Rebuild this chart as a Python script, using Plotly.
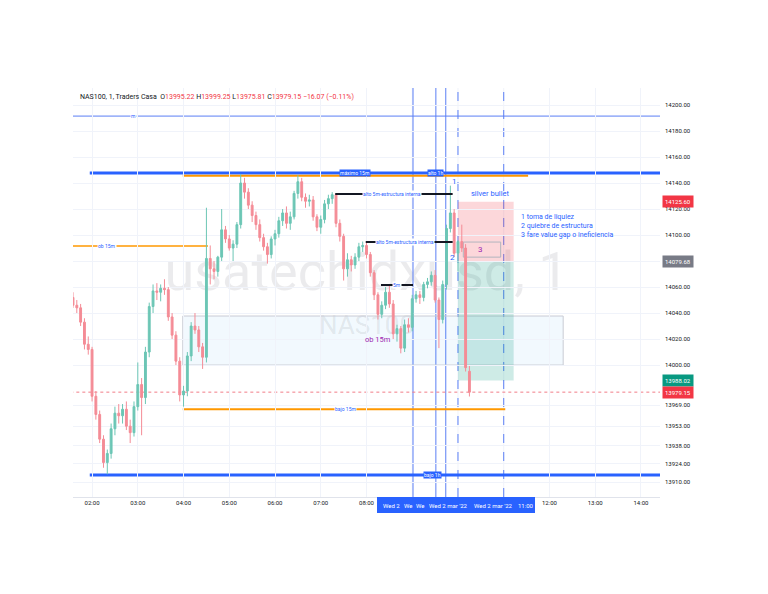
import pandas as pd
import plotly.graph_objects as go

# ---------------- data (5-minute candles) ----------------
open_ = [14052, 14046, 14044, 14033, 14016, 14012, 13976, 13962, 13943, 13925,
         13932, 13951, 13963, 13961, 13966, 13953, 13948, 13968, 13985, 13975,
         14010, 14045, 14057, 14056, 14059, 14058, 14037, 14023, 14003, 13977,
         13980, 14007, 14030, 14027, 14014, 14006, 14082, 14074, 14072, 14083,
         14104, 14097, 14090, 14093, 14108, 14140, 14133, 14123, 14115, 14108,
         14098, 14091, 14085, 14097, 14101, 14111, 14117, 14109, 14114, 14132,
         14141, 14129, 14126, 14127, 14114, 14106, 14112, 14124, 14128, 14131,
         14109, 14099, 14074, 14081, 14077, 14083, 14091, 14092, 14085, 14071,
         14054, 14039, 14046, 14056, 14047, 14024, 14028, 14013, 14031, 14029,
         14051, 14054, 14052, 14062, 14064, 14069, 14050, 14035, 14062, 14105,
         14117, 14086, 14095, 14090, 13995.22]
high_ = [14056, 14050, 14047, 14036, 14022, 14014, 13980, 13965, 13946, 13935,
         13955, 13968, 13970, 13970, 13972, 13958, 13972, 14002, 13990, 14014,
         14048, 14062, 14063, 14062, 14066, 14060, 14040, 14026, 14006, 13984,
         14010, 14033, 14040, 14030, 14017, 14121, 14092, 14080, 14084, 14120,
         14107, 14100, 14096, 14110, 14147, 14144, 14136, 14126, 14118, 14112,
         14101, 14094, 14099, 14104, 14114, 14120, 14122, 14118, 14134, 14146,
         14144, 14132, 14131, 14130, 14116, 14115, 14127, 14131, 14133, 14132,
         14112, 14101, 14086, 14084, 14086, 14094, 14095, 14094, 14087, 14073,
         14056, 14049, 14060, 14062, 14050, 14031, 14030, 14035, 14036, 14054,
         14057, 14057, 14064, 14067, 14072, 14073, 14052, 14065, 14108, 14138,
         14120, 14096, 14108, 14093, 13999.25]
low_ = [14044, 14040, 14030, 14012, 14008, 13972, 13958, 13940, 13921, 13916,
        13928, 13946, 13955, 13955, 13950, 13940, 13945, 13965, 13946, 13970,
        14006, 14040, 14050, 14049, 14054, 14034, 14020, 14000, 13972, 13968,
        13976, 14003, 14024, 14010, 13997, 14002, 14062, 14066, 14068, 14080,
        14094, 14088, 14080, 14090, 14105, 14128, 14120, 14110, 14104, 14095,
        14088, 14078, 14082, 14092, 14098, 14107, 14105, 14104, 14112, 14128,
        14126, 14121, 14122, 14111, 14103, 14101, 14109, 14120, 14124, 14106,
        14095, 14065, 14068, 14072, 14074, 14080, 14087, 14082, 14068, 14050,
        14035, 14036, 14043, 14044, 14020, 14018, 14009, 14010, 14025, 14026,
        14048, 14047, 14049, 14059, 14061, 14048, 14013, 14032, 14058, 14102,
        14083, 14072, 14087, 13995, 13975.81]
close_ = [14046, 14044, 14033, 14016, 14012, 13976, 13962, 13943, 13925, 13932,
          13951, 13963, 13961, 13966, 13953, 13948, 13968, 13985, 13975, 14010,
          14045, 14057, 14056, 14059, 14058, 14037, 14023, 14003, 13977, 13980,
          14007, 14030, 14027, 14014, 14006, 14082, 14074, 14072, 14083, 14104,
          14097, 14090, 14093, 14108, 14140, 14133, 14123, 14115, 14108, 14098,
          14091, 14085, 14097, 14101, 14111, 14117, 14109, 14114, 14132, 14141,
          14129, 14126, 14127, 14114, 14106, 14112, 14124, 14128, 14131, 14109,
          14099, 14074, 14081, 14077, 14083, 14091, 14092, 14085, 14071, 14054,
          14039, 14046, 14056, 14047, 14024, 14028, 14013, 14031, 14029, 14051,
          14054, 14052, 14062, 14064, 14069, 14050, 14035, 14062, 14105, 14117,
          14086, 14095, 14090, 13998, 13979.15]
times = pd.date_range("2022-03-02 01:35", periods=len(close_), freq="5min")

# price levels of the drawings
lvl_m = 14191.5
lvl_max15 = 14147.7
lvl_max15_or = 14145.6
lvl_alto5a = 14131.5
lvl_alto5b = 14094.6
lvl_5m = 14061.5
lvl_ob15 = 14091.5
lvl_bajo15 = 13966.0
lvl_bajo1h = 13915.4
box_top, box_bot = 14037.7, 14000.0
stop_p, entry_p, target_p, last_p = 14125.60, 14079.68, 13988.02, 13979.15
fvg_top, fvg_bot = 14094.6, 14083.0

ytick_vals = [14200, 14180, 14160, 14140, 14120, 14100, 14080, 14060, 14040, 14020,
              14000, 13969, 13953, 13938, 13924, 13910]
xtick_hours = ["02:00", "03:00", "04:00", "05:00", "06:00", "07:00", "08:00",
               "12:00", "13:00", "14:00"]

D = "2022-03-02 "
BLUE = "#2962ff"
ORANGE = "#ff9800"

# page body has an 8px margin: figure origin is at page (8, 8)
PL, PT, PR, PB = 73 - 8, 88 - 8, 660 - 8, 497 - 8   # plot box in figure pixels
W, H = 760, 586
PW, PH = PR - PL, PB - PT

fig = go.Figure()
fig.add_trace(go.Candlestick(
    x=times, open=open_, high=high_, low=low_, close=close_,
    increasing=dict(line=dict(color="#6cc6b5", width=1), fillcolor="#6cc6b5"),
    decreasing=dict(line=dict(color="#f48c96", width=1), fillcolor="#f48c96"),
    whiskerwidth=0, showlegend=False, hoverinfo="skip"))

shapes = []
def hline(y, x0, x1, color, width, dash="solid", layer="below"):
    shapes.append(dict(type="line", xref="x", yref="y", x0=x0, x1=x1, y0=y, y1=y,
                       line=dict(color=color, width=width, dash=dash), layer=layer))
def vline(x, color, width, dash="solid"):
    shapes.append(dict(type="line", xref="x", yref="paper", x0=x, x1=x, y0=0, y1=1,
                       line=dict(color=color, width=width, dash=dash), layer="below"))
def rect(x0, x1, y0, y1, fill, line_color, lw=1):
    shapes.append(dict(type="rect", xref="x", yref="y", x0=x0, x1=x1, y0=y0, y1=y1,
                       fillcolor=fill, line=dict(color=line_color, width=lw), layer="below"))

# extra hour grid lines (hours whose labels are hidden by the highlighted band)
for h in ["09:00", "10:00", "11:00"]:
    shapes.append(dict(type="line", xref="x", yref="paper", x0=D + h, x1=D + h, y0=0, y1=1,
                       line=dict(color="#f0f3fa", width=1), layer="below"))

# watermark
shapes.append(dict(type="rect", xref="paper", yref="paper", x0=0, x1=1, y0=0.46, y1=0.66,
                   line=dict(width=0), fillcolor="rgba(0,0,0,0)", layer="below",
                   label=dict(text="usatechidxusd, 1", textposition="middle center",
                              font=dict(size=54, color="rgba(120,123,134,0.15)",
                                        family="Roboto"))))
shapes.append(dict(type="rect", xref="paper", yref="paper", x0=0, x1=1, y0=0.37, y1=0.48,
                   line=dict(width=0), fillcolor="rgba(0,0,0,0)", layer="below",
                   label=dict(text="NAS100", textposition="middle center",
                              font=dict(size=26, color="rgba(120,123,134,0.15)",
                                        family="Roboto"))))

# boxes
rect(D + "03:59", D + "12:18", box_bot, box_top, "rgba(33,150,243,0.06)", "#c9ccd4")
rect(D + "10:00", D + "11:13", entry_p, stop_p, "rgba(242,54,69,0.2)", "rgba(0,0,0,0)", 0)
rect(D + "10:00", D + "11:13", target_p, entry_p, "rgba(8,153,129,0.2)", "rgba(0,0,0,0)", 0)
rect(D + "10:07", D + "10:56", fvg_bot, fvg_top, "rgba(255,255,255,0)", "#b2b5be")

# vertical lines
for t in ["09:01", "09:31", "09:44"]:
    vline(D + t, "#5b7ff5", 1)
for t in ["10:00", "11:00"]:
    vline(D + t, "#5b7ff5", 1, "dash")

# horizontal drawings
X_L, X_R = D + "01:00", D + "15:00"
hline(lvl_m, X_L, X_R, "#5b7ff5", 1)
hline(lvl_max15, D + "01:57", X_R, BLUE, 3)
hline(lvl_max15_or, D + "03:59", D + "11:32", ORANGE, 2)
hline(lvl_bajo1h, D + "01:57", X_R, BLUE, 3)
hline(lvl_ob15, D + "01:35", D + "04:32", ORANGE, 1.5)
hline(lvl_bajo15, D + "03:59", D + "11:02", ORANGE, 2)
hline(lvl_alto5a, D + "07:19", D + "09:53", "#131722", 2, layer="above")
hline(lvl_alto5b, D + "07:59", D + "09:53", "#131722", 2, layer="above")
hline(lvl_5m, D + "08:19", D + "09:01", "#131722", 2, layer="above")
hline(last_p, X_L, X_R, "#f27d88", 1, "dot")

# highlighted time band below axis
shapes.append(dict(type="rect", xref="paper", yref="paper", x0=(377 - 73) / PW,
                   x1=(535 - 73) / PW, y0=-16 / PH, y1=0, fillcolor=BLUE,
                   line=dict(width=0), layer="above"))

ann = []
def lab(x, y, text, color=BLUE, size=5, bg="white", xanchor="center", **kw):
    d = dict(x=x, y=y, xref="x", yref="y", text=text, showarrow=False,
             font=dict(size=size, color=color, family="Roboto"), xanchor=xanchor,
             yanchor="middle", borderpad=0)
    if bg:
        d["bgcolor"] = bg
    d.update(kw)
    ann.append(d)

lab(D + "02:55", lvl_m, "m")
lab(D + "07:45", lvl_max15, "máximo 15m", color="white", bg=BLUE)
lab(D + "09:30", lvl_max15, "alto 1h", color="white", bg=BLUE)
lab(D + "08:33", lvl_alto5a, "alto 5m-estructura interna")
lab(D + "08:50", lvl_alto5b, "alto 5m-estructura interna")
lab(D + "08:40", lvl_5m, "5m")
lab(D + "02:20", lvl_ob15, "ob 15m")
lab(D + "07:32", lvl_bajo15, "bajo 15m")
lab(D + "09:26", lvl_bajo1h, "bajo 1h", color="white", bg=BLUE)
lab(D + "08:15", 14020, "ob 15m", color="#9c27b0", size=7.5, bg=None)
lab(D + "10:29", 14089, "3", color="#9c27b0", size=8, bg=None)
lab(D + "09:56", 14141.5, "1", color=BLUE, size=8, bg=None)
lab(D + "09:53", 14083, "2", color=BLUE, size=8, bg=None)
lab(D + "10:42", 14132.3, "silver bullet", color=BLUE, size=7.5, bg=None)
ann.append(dict(x=D + "11:20", y=14118.5, xref="x", yref="y", xanchor="left", yanchor="top",
                align="left", showarrow=False,
                text="1 toma de liquiez<br>2 quiebre de estructura<br>3 fare value gap o ineficiencia",
                font=dict(size=7, color=BLUE, family="Roboto")))

# price labels on the right axis
for p, c in [(stop_p, "#f23645"), (entry_p, "#787b86"), (target_p, "#089981"), (last_p, "#f23645")]:
    ann.append(dict(x=1, xref="paper", y=p, yref="y", xanchor="left", yanchor="middle",
                    xshift=2, text=f"{p:.2f}", showarrow=False, bgcolor=c, borderpad=2,
                    font=dict(size=6, color="white", family="Roboto")))

# header
red = "#f23645"
hdr = (f"NAS100, 1, Traders Casa  O<span style='color:{red}'>13995.22</span> "
       f"H<span style='color:{red}'>13999.25</span> L<span style='color:{red}'>13975.81</span> "
       f"C<span style='color:{red}'>13979.15</span> <span style='color:{red}'>−16.07 (−0.11%)</span>")
ann.append(dict(x=0, y=(497 - 97) / PH, xref="paper", yref="paper", xanchor="left",
                yanchor="middle", xshift=5, text=hdr, showarrow=False,
                font=dict(size=7, color="#131722", family="Roboto")))

# texts in the highlighted time band
for xp, t in [(391, "Wed 2"), (408, "We"), (420, "We"), (448, "Wed 2 mar '22"),
              (493, "Wed 2 mar '22"), (526, "11:00")]:
    ann.append(dict(x=(xp - 73) / PW, y=-8 / PH, xref="paper", yref="paper",
                    text=t, showarrow=False, xanchor="center", yanchor="middle",
                    font=dict(size=6, color="white", family="Roboto")))

fig.update_layout(
    width=W, height=H,
    margin=dict(l=PL, r=W - PR, t=PT, b=H - PB),
    paper_bgcolor="white", plot_bgcolor="white",
    shapes=shapes, annotations=ann,
    xaxis=dict(type="date", range=[D + "01:35", D + "14:25"],
               rangeslider=dict(visible=False),
               tickvals=[D + h for h in xtick_hours], ticktext=xtick_hours,
               tickfont=dict(size=6, color="#131722", family="Roboto"),
               showgrid=True, gridcolor="#f0f3fa", zeroline=False,
               showline=True, linecolor="#e0e3eb", ticks=""),
    yaxis=dict(side="right", range=[13898.5, 14213.1],
               tickvals=ytick_vals, ticktext=[f"{v:.2f}" for v in ytick_vals],
               tickfont=dict(size=6, color="#131722", family="Roboto"),
               showgrid=True, gridcolor="#f0f3fa", zeroline=False, ticks="",
               ticklabelstandoff=4),
    font=dict(family="Roboto"),
)
fig.write_html("out.html")
